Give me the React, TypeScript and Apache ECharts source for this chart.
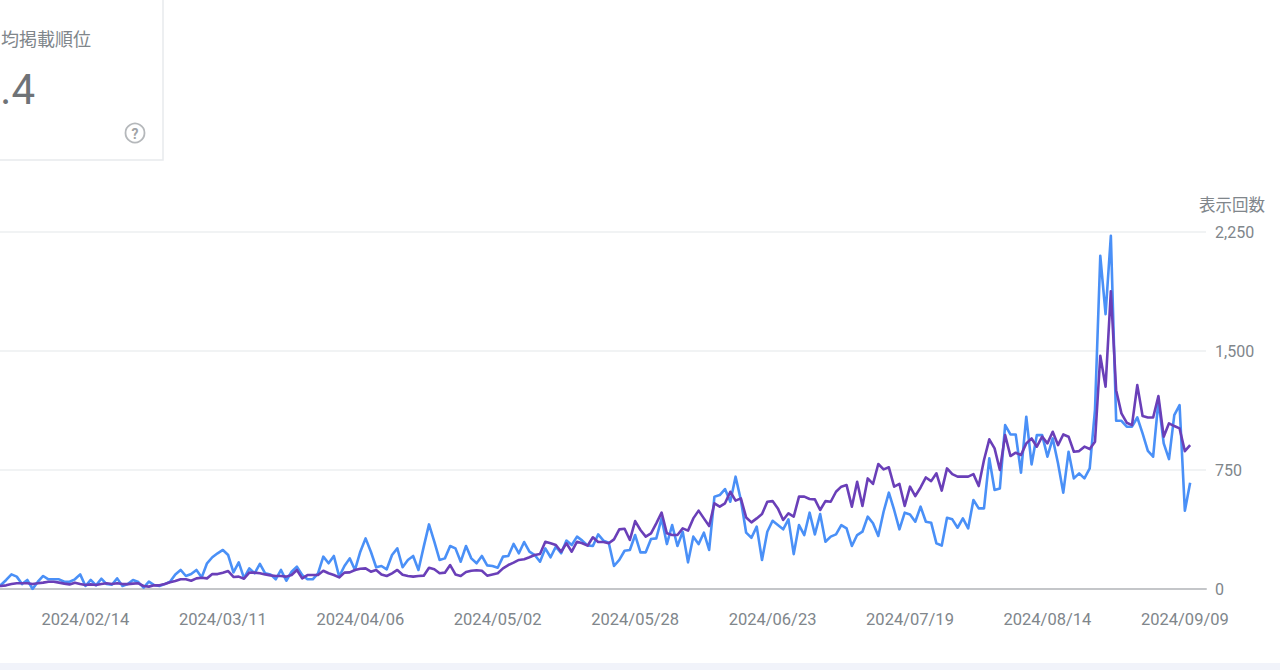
import { useEffect, useRef } from "react";
import * as echarts from "echarts";

const START_DATE = Date.UTC(2024, 0, 28);
const DAY_COUNT = 230;

const tickLabels = [
  "2024/02/14",
  "2024/03/11",
  "2024/04/06",
  "2024/05/02",
  "2024/05/28",
  "2024/06/23",
  "2024/07/19",
  "2024/08/14",
  "2024/09/09",
];

// Daily values, from 2024/01/28 to 2024/09/10
const clicksSeries = [
  19, 19, 23, 31, 36, 36, 36, 31, 36, 40, 46, 46, 40, 34, 29, 40, 31, 25, 29, 25, 31,
  36, 31, 36, 31, 31, 34, 36, 19, 15, 23, 23, 31, 42, 50, 61, 61, 52, 67, 71, 67,
  94, 94, 103, 113, 76, 78, 65, 103, 103, 99, 92, 86, 82, 82, 78, 88, 120, 67, 88, 88,
  88, 115, 99, 88, 73, 103, 105, 120, 128, 130, 109, 120, 92, 82, 99, 120, 90, 82, 78, 82,
  84, 134, 124, 99, 103, 151, 92, 82, 107, 115, 118, 115, 84, 92, 99, 130, 151, 166, 183, 187,
  200, 214, 220, 298, 288, 277, 235, 288, 235, 298, 288, 273, 326, 296, 296, 288, 313, 376, 380, 309,
  428, 372, 330, 351, 414, 481, 351, 340, 340, 382, 368, 445, 494, 445, 397, 540, 519, 540, 613, 557,
  571, 451, 420, 445, 472, 550, 554, 508, 435, 477, 456, 582, 582, 567, 565, 498, 554, 550, 613, 645,
  655, 519, 676, 523, 697, 662, 788, 754, 767, 645, 662, 523, 645, 586, 640, 703, 680, 729, 620, 760,
  724, 708, 708, 708, 724, 649, 813, 943, 886, 750, 970, 838, 859, 844, 918, 949, 897, 960, 918, 991,
  907, 974, 960, 865, 869, 897, 882, 928, 1470, 1275, 1877, 1253, 1107, 1048, 1033, 1285, 1090, 1081, 1081, 1216,
  960, 1044, 1027, 1012, 869, 907,
];

const impressionsSeries = [
  20, 25, 57, 92, 78, 31, 57, 0, 46, 82, 61, 61, 61, 46, 46, 61, 92, 19, 57, 23, 65,
  31, 27, 67, 19, 31, 57, 44, 8, 46, 25, 19, 31, 46, 92, 120, 82, 94, 120, 73, 162,
  200, 225, 246, 214, 105, 168, 69, 130, 99, 158, 99, 92, 61, 120, 52, 109, 141, 88, 61, 61,
  99, 204, 162, 208, 78, 145, 193, 120, 235, 319, 235, 137, 145, 124, 214, 256, 137, 183, 208, 120,
  267, 407, 298, 183, 193, 271, 256, 172, 271, 193, 162, 208, 149, 145, 134, 204, 208, 284, 225, 296,
  235, 214, 172, 256, 200, 267, 225, 305, 277, 330, 305, 275, 271, 344, 305, 292, 145, 183, 241, 246,
  340, 231, 231, 315, 319, 445, 283, 403, 271, 361, 168, 330, 283, 355, 246, 582, 592, 630, 550, 708,
  561, 355, 323, 393, 183, 361, 430, 403, 376, 439, 220, 403, 340, 481, 344, 472, 298, 330, 344, 403,
  382, 271, 340, 361, 456, 414, 334, 487, 607, 498, 376, 481, 470, 424, 519, 424, 418, 288, 273, 449,
  439, 386, 445, 382, 561, 508, 508, 823, 624, 634, 1033, 974, 974, 733, 1086, 785, 970, 970, 834, 949,
  792, 607, 865, 697, 729, 697, 760, 1130, 2100, 1732, 2226, 1060, 1060, 1023, 1023, 1081, 981, 871, 834, 1187,
  918, 819, 1096, 1159, 493, 670,
];

const yTicks = { max: 2250, interval: 750 };
const yAxisTitle = "表示回数";
const cardTitle = "均掲載順位";
const cardValue = ".4";

const categories = Array.from({ length: DAY_COUNT }, (_, i) => {
  const d = new Date(START_DATE + i * 86400000);
  const mm = String(d.getUTCMonth() + 1).padStart(2, "0");
  const dd = String(d.getUTCDate()).padStart(2, "0");
  return `${d.getUTCFullYear()}/${mm}/${dd}`;
});

const LATIN_FONT = "Roboto, sans-serif";
const CJK_FONT = "'Noto Sans CJK JP', sans-serif";

export default function App() {
  const chartRef = useRef<HTMLDivElement>(null);

  useEffect(() => {
    if (!chartRef.current) return;
    const chart = echarts.init(chartRef.current, undefined, { renderer: "svg" });

    const option: echarts.EChartsOption = {
      animation: false,
      backgroundColor: "#ffffff",
      grid: { left: -4.4, right: 74, top: 232, bottom: 81, outerBoundsMode: "none" },
      xAxis: {
        type: "category",
        data: categories,
        boundaryGap: false,
        axisTick: { show: false },
        axisLine: { lineStyle: { color: "#c4c6c9", width: 2 } },
        axisLabel: {
          interval: (_i: number, value: string) => tickLabels.includes(value),
          margin: 22,
          color: "#80868b",
          fontSize: 16.5,
          fontFamily: LATIN_FONT,
        },
        splitLine: { show: false },
      },
      yAxis: {
        type: "value",
        position: "right",
        min: 0,
        max: yTicks.max,
        interval: yTicks.interval,
        name: yAxisTitle,
        nameLocation: "end",
        nameGap: 20,
        nameTextStyle: {
          color: "#80868b",
          fontSize: 16.5,
          fontFamily: CJK_FONT,
          align: "left",
          padding: [0, 0, 0, -7],
        },
        axisLine: { show: false },
        axisTick: { show: false },
        axisLabel: {
          margin: 9,
          color: "#80868b",
          fontSize: 16,
          fontFamily: LATIN_FONT,
          formatter: (v: number) => v.toLocaleString("en-US"),
        },
        splitLine: { lineStyle: { color: "#f1f3f4", width: 2 } },
      },
      series: [
        {
          name: "表示回数",
          type: "line",
          data: impressionsSeries,
          showSymbol: false,
          lineStyle: { color: "#4a90f7", width: 2.6, join: "round" },
          z: 2,
        },
        {
          name: "クリック数",
          type: "line",
          data: clicksSeries,
          showSymbol: false,
          lineStyle: { color: "#6a3fb8", width: 2.6, join: "round" },
          z: 3,
        },
      ],
      graphic: [
        {
          type: "rect",
          shape: { x: -10, y: -10, width: 173, height: 170 },
          style: { fill: "#ffffff", stroke: "#e8eaed", lineWidth: 1.5 },
        },
        {
          type: "text",
          x: 91,
          y: 38,
          style: {
            text: cardTitle,
            fill: "#80868b",
            fontSize: 18,
            fontFamily: CJK_FONT,
            textAlign: "right",
            textVerticalAlign: "middle",
          },
        },
        {
          type: "text",
          x: 35,
          y: 89,
          style: {
            text: cardValue,
            fill: "#6f7377",
            fontSize: 42,
            fontFamily: LATIN_FONT,
            textAlign: "right",
            textVerticalAlign: "middle",
          },
        },
        {
          type: "circle",
          shape: { cx: 135, cy: 133, r: 9.5 },
          style: { fill: "none", stroke: "#b5b8bb", lineWidth: 1.8 },
        },
        {
          type: "text",
          x: 135,
          y: 133.5,
          style: {
            text: "?",
            fill: "#a0a3a6",
            fontSize: 14,
            fontWeight: "bold",
            fontFamily: LATIN_FONT,
            textAlign: "center",
            textVerticalAlign: "middle",
          },
        },
        {
          type: "rect",
          shape: { x: 0, y: 663, width: 1280, height: 7 },
          style: { fill: "#f1f3fa" },
        },
      ],
    };

    chart.setOption(option);

    return () => {
      chart.dispose();
    };
  }, []);

  return (
    <div
      ref={chartRef}
      style={{ position: "absolute", left: 0, top: 0, width: 1280, height: 670 }}
    />
  );
}
